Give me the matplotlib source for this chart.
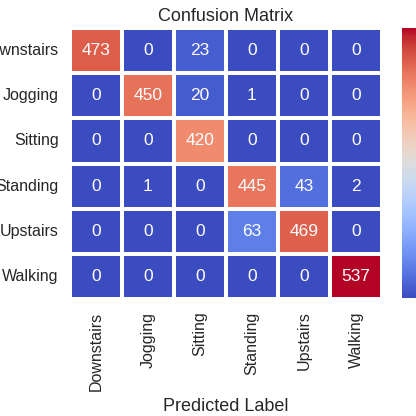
import numpy as np
import matplotlib
matplotlib.use("Agg")
import matplotlib.pyplot as plt
import seaborn as sns

# class names (rows = true label, columns = predicted label)
LABELS = ["Downstairs", "Jogging", "Sitting", "Standing", "Upstairs", "Walking"]

ROW_DOWNSTAIRS = [473, 0, 23, 0, 0, 0]
ROW_JOGGING = [0, 450, 20, 1, 0, 0]
ROW_SITTING = [0, 0, 420, 0, 0, 0]
ROW_STANDING = [0, 1, 0, 445, 43, 2]
ROW_UPSTAIRS = [0, 0, 0, 63, 469, 0]
ROW_WALKING = [0, 0, 0, 0, 0, 537]


def main():
    cm = np.array([ROW_DOWNSTAIRS, ROW_JOGGING, ROW_SITTING,
                   ROW_STANDING, ROW_UPSTAIRS, ROW_WALKING])

    sns.set_theme(style="whitegrid")
    plt.rcParams["font.family"] = ["Liberation Sans", "DejaVu Sans"]

    fig = plt.figure(figsize=(4.16, 4.16), dpi=100)
    W = H = 416.0
    # heatmap area in pixels (left, top, width, height)
    ax = fig.add_axes([70 / W, 1 - 299 / H, 312 / W, 271 / H])
    cax = fig.add_axes([402 / W, 1 - 298 / H, 14 / W, 270 / H])

    sns.heatmap(cm, annot=True, fmt="d", cmap="coolwarm", linewidths=1.5,
                linecolor="white", xticklabels=LABELS, yticklabels=LABELS,
                ax=ax, cbar_ax=cax, annot_kws={"size": 12.5, "color": "white"})

    ax.set_title("Confusion Matrix", fontsize=13, pad=5)
    ax.set_xlabel("Predicted Label", fontsize=13, labelpad=5)
    ax.tick_params(axis="both", length=0, labelsize=11.5)
    ax.tick_params(axis="y", pad=8)
    ax.tick_params(axis="x", pad=9)
    plt.setp(ax.get_xticklabels(), rotation=90)
    plt.setp(ax.get_yticklabels(), rotation=0)
    cax.tick_params(length=0, labelsize=11)

    fig.savefig("out.png", dpi=100, facecolor="white")
    plt.close(fig)


if __name__ == "__main__":
    main()
